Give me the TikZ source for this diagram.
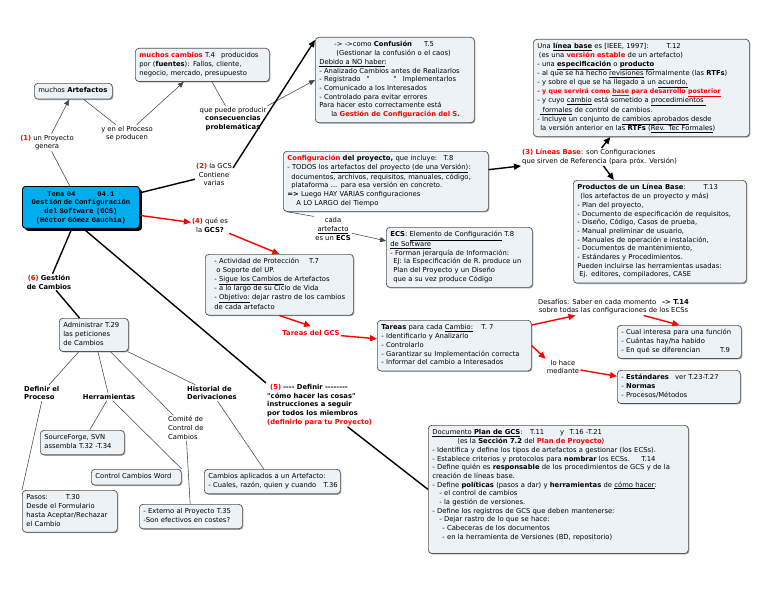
\documentclass[tikz,border=0pt]{standalone}
\usepackage{fontspec}
\setmainfont{DejaVu Sans}[Ligatures=TeXOff]
\newfontfamily\MonoF{Liberation Mono}
\usetikzlibrary{arrows.meta,shadows,calc}
\definecolor{boxfill}{RGB}{236,242,245}
\definecolor{boxline}{RGB}{85,85,85}
\definecolor{thinline}{RGB}{70,70,70}
\newcommand\Fs{\fontsize{6.8}{8.7}\selectfont}
\newcommand\Tb[1]{\begin{tabular}{@{}l@{}}#1\end{tabular}}
\newcommand\Tbc[1]{\begin{tabular}{@{}c@{}}#1\end{tabular}}
\newcommand\Rb[1]{\textcolor{red}{\bfseries #1}}
\tikzset{
  box/.style={draw=boxline, fill=boxfill, line width=0.7pt, rounded corners=3.5pt,
    inner xsep=4pt, inner ysep=3.5pt, anchor=north west, font=\Fs, align=left,
    drop shadow={shadow xshift=1pt, shadow yshift=-1pt, fill=black!45, opacity=0.8}},
  mainbox/.style={draw=black, fill=cyan, line width=0.9pt, rounded corners=3pt,
    inner xsep=4pt, inner ysep=3.5pt, anchor=north west, align=center,
    font=\MonoF\bfseries\fontsize{7.1}{8.7}\selectfont,
    drop shadow={shadow xshift=2.5pt, shadow yshift=-2.5pt, fill=black, opacity=1}},
  lab/.style={font=\Fs, inner sep=1pt, align=center},
  labl/.style={font=\Fs, inner sep=1pt, align=left},
  lnthin/.style={draw=thinline, line width=0.55pt},
  lnthina/.style={lnthin, -{Triangle[length=6pt,width=5pt]}},
  lnthick/.style={draw=black, line width=1.4pt},
  lnthicka/.style={lnthick, -{Triangle[length=7pt,width=6pt]}},
  reda/.style={draw=red, line width=1.4pt, -{Triangle[length=7pt,width=6pt]}},
}
\begin{document}
\begin{tikzpicture}[x=1pt,y=-1pt]
\useasboundingbox (0,0) rectangle (768,594);
\fill[white] (0,0) rectangle (768,594);

% boxes
\node[mainbox, text width=109pt] (main) at (22,186)
  {\Tbc{Tema 04\hspace{22pt}04.1\\Gestión de Configuración\\del Software (GCS)\\(Héctor Gómez Gauchia)}};

\node[box, text width=70pt] (art) at (34,83) {\Tb{muchos \textbf{Artefactos}}};

\node[box, text width=126pt] (mc) at (135,48)
  {\Tb{\Rb{muchos cambios} T.4\hspace{4pt} producidos\\ por (\textbf{fuentes}): Fallos, cliente,\\ negocio, mercado, presupuesto}};

\node[box, text width=151pt] (conf) at (315,37)
  {\Tb{\hspace{15pt}-> ->como \textbf{Confusión}\hspace{12pt}T.5\\
  \hspace{17pt}(Gestionar la confusión o el caos)\\
  \underline{Debido a NO haber}:\\
  - Analizado Cambios antes de Realizarlos\\
  - Registrado\hspace{6pt}"\hspace{24pt}"\hspace{6pt}Implementarlos\\
  - Comunicado a los Interesados\\
  - Controlado para evitar errores\\
  Para hacer esto correctamente está\\
  \hspace{12pt}la \Rb{Gestión de Configuración del S.}}};

\node[box, text width=208pt] (lbase) at (533,39)
  {\Tb{Una \underline{\textbf{línea base}} es [IEEE, 1997]:\hspace{18pt}T.12\\
  \hspace{1.5pt}(es una \Rb{versión estable} de un artefacto)\\
  - una \underline{\textbf{especificación}} o \underline{\textbf{producto}}\\
  - al que se ha hecho \underline{revisiones} formalmente (las \textbf{RTFs})\\
  - y sobre el que se ha llegado a un \underline{acuerdo,}\\
  \textcolor{red}{\bfseries\fontsize{6.3}{8.7}\selectfont - y que servirá como \underline{base} para desarrollo \underline{posterior}}\\
  - y cuyo \underline{cambio} está sometido a \underline{procedimientos\ }\\
  \hspace{3pt}\underline{\ formales} de control de cambios.\\
  - Incluye un conjunto de \underline{cambios aprobados} desde\\
  \hspace{3pt}la versión anterior en las \textbf{RTFs} (\underline{Rev. Tec Formales})}};

\node[box, text width=197pt] (config) at (283,151)
  {\Tb{\Rb{Configuración} \textbf{del proyecto,} que incluye:\hspace{3pt} T.8\\
  - TODOS los \underline{artefactos del proyecto (de una Versión)}:\\
  \hspace{4pt}documentos, archivos, requisitos, manuales, código,\\
  \hspace{4pt}plataforma ... para esa versión en concreto.\\
  \textbf{=>} Luego HAY VARIAS configuraciones\\
  \hspace{9pt}A LO LARGO del Tiempo}};

\node[box, text width=165pt] (prod) at (573,180)
  {\Tb{\textbf{Productos de un Línea Base}:\hspace{18pt}T.13\\
  \hspace{3pt}(los artefactos de un proyecto y más)\\
  - Plan del proyecto,\\
  - Documento de especificación de requisitos,\\
  - Diseño, Código, Casos de prueba,\\
  - Manual preliminar de usuario,\\
  - Manuales de operación e instalación,\\
  - Documentos de mantenimiento,\\
  - Estándares y Procedimientos.\\
  Pueden incluirse las herramientas usadas:\\
  \hspace{2pt}Ej. editores, compiladores, CASE}};

\node[box, text width=138pt] (ecs) at (386,227)
  {\Tb{\textbf{ECS}: \underline{Elemento de Configuración} T.8\\
  \underline{de Software}\\
  - Forman jerarquía de Información:\\
  \hspace{3pt}EJ: la Especificación de R. produce un\\
  \hspace{3pt}Plan del Proyecto y un Diseño\\
  \hspace{3pt}que a su vez produce Código}};

\node[box, inner xsep=9pt, text width=130pt] (activ) at (205,254)
  {\Tb{- Actividad de Protección\hspace{10pt}T.7\\
  \hspace{2pt}o Soporte del UP.\\
  - \underline{Sigue los Cambios }de Artefactos\\
  - a lo largo de su Ciclo de Vida\\
  - \underline{Objetivo:} dejar rastro de los cambios\\
  de cada artefacto}};

\node[box, text width=146pt] (tareas) at (377,320)
  {\Tb{\textbf{Tareas} para cada \underline{Cambio:}\hspace{6pt} T. 7\\
  - Identificarlo y Analizarlo\\
  - Controlarlo\\
  - Garantizar su Implementación correcta\\
  - Informar del cambio a Interesados}};

\node[box, text width=116pt] (cual) at (617,325)
  {\Tb{- Cual interesa para una función\\
  - Cuántas hay/ha habido\\
  - En qué se diferencian\hspace{20pt}T.9}};

\node[box, text width=115pt] (est) at (617,370)
  {\Tb{- \textbf{Estándares}\hspace{4pt} ver T.23-T.27\\
  - \textbf{Normas}\\
  - Procesos/Métodos}};

\node[box, text width=61pt] (admin) at (59,318) {\Tb{Administrar T.29\\las peticiones\\de Cambios}};
\node[box, text width=76pt] (sf) at (40,430) {\Tb{SourceForge, SVN\\assembla T.32 -T.34}};
\node[box, text width=82pt] (cw) at (91,469) {\Tb{Control Cambios Word}};
\node[box, text width=87pt] (pasos) at (22,490) {\Tb{Pasos:\hspace{18pt}T.30\\Desde el Formulario\\hasta Aceptar/Rechazar\\el Cambio}};
\node[box, text width=95pt] (ext) at (139,504) {\Tb{- Externo al Proyecto T.35\\-Son efectivos en costes?}};
\node[box, text width=128pt] (ca) at (204,469) {\Tb{Cambios aplicados a un Artefacto:\\- Cuales, razón, quien y cuando\hspace{5pt} T.36}};

\node[box, text width=252pt] (plan) at (428,425)
  {\Tb{\underline{Documento \textbf{Plan de GCS}}:\hspace{4pt} T.11\hspace{16pt}y\hspace{3pt} T.16 -T.21\\
  \hspace{25pt}(es la \textbf{Sección 7.2} del \Rb{Plan de Proyecto})\\
  - Identifica y define los tipos de artefactos a gestionar (los ECSs).\\
  - Establece criterios y protocolos para \textbf{nombrar} los ECSs.\hspace{8pt} T.14\\
  - Define quién es \textbf{responsable} de los procedimientos de GCS y de la\\
  creación de líneas base.\\
  - Define \textbf{políticas} (pasos a dar) y \textbf{herramientas} de \underline{cómo hacer}:\\
  \hspace{7pt}- el control de cambios\\
  \hspace{7pt}- la gestión de versiones.\\
  - Define los registros de GCS que deben mantenerse:\\
  \hspace{7pt}- Dejar rastro de lo que se hace:\\
  \hspace{10pt}- Cabeceras de los documentos\\
  \hspace{10pt}- en la herramienta de Versiones (BD, repositorio)\\[8pt]}};

% labels
\node[lab] (lab1) at (47,142.5) {\Rb{(1)} un Proyecto\\genera};
\node[lab] (laby) at (127,133.5) {y en el Proceso\\se producen};
\node[lab] (labqp) at (233,119) {que puede producir\\\textbf{consecuencias}\\\textbf{problemáticas}};
\node[lab] (lab2) at (214,174.5) {\Rb{(2)} la GCS\\Contiene\\varias};
\node[lab] (lab4) at (210,225) {\Rb{(4)} qué es\\la \textbf{GCS?}};
\node[lab] (lab6) at (49,282) {\Rb{(6)} \textbf{Gestión}\\\textbf{de Cambios}};
\node[labl, anchor=west] (lab3) at (521,157) {\Rb{(3) Líneas Base}: son Configuraciones\\que sirven de Referencia (para próx. Versión)};
\node[lab] (labcada) at (333,229) {cada\\\underline{artefacto}\\es un \textbf{ECS}};
\node[lab] (labtdg) at (311,333) {\Rb{Tareas del GCS}};
\node[lab] (labdes) at (613.5,306.5) {Desafíos: Saber en cada momento\hspace{4pt} \textbf{-> T.14}\\sobre todas las configuraciones de los ECSs};
\node[lab] (lablh) at (563,367) {lo hace\\mediante};
\node[labl, anchor=west] (labdef) at (23,393) {\textbf{Definir el}\\\textbf{Proceso}};
\node[lab] (labher) at (109,397) {\textbf{Herramientas}};
\node[labl, anchor=west] (labhis) at (186,393) {\textbf{Historial de}\\\textbf{Derivaciones}};
\node[labl, anchor=west] (labcom) at (167,428) {Comité de\\Control de\\Cambios};
\node[labl, anchor=north west] (lab5) at (266,383)
  {\hspace{3pt}\Rb{(5)} \textbf{---- Definir --------}\\
  \textbf{"cómo hacer las cosas"}\\
  \textbf{instrucciones a seguir}\\
  \textbf{por todos los miembros}\\
  \Rb{(definirlo para tu Proyecto)}};

% connectors
\draw[lnthin] (main) -- (lab1);
\draw[lnthina] (lab1) -- (art);
\draw[lnthin] (art) -- (laby);
\draw[lnthina] (laby) -- (mc);
\draw[lnthin] (mc) -- (labqp);
\draw[lnthina] (labqp.north east) -- (conf.west);
\draw[lnthick] (main) -- (lab2);
\draw[lnthicka] ([yshift=-6pt]lab2.north east) -- ([yshift=-3pt]conf.north west);
\draw[reda] (main) -- (lab4);
\draw[reda] (lab4.south east) -- (activ.north);
\draw[lnthick] (main) -- (lab6);
\draw[lnthick] (lab6) -- (admin);
\draw[lnthick] ([xshift=2.5pt]main.south) -- (lab5.north west);
\draw[lnthick] ([xshift=28pt]lab5.south) -- (plan.west);
\draw[lnthicka] (config) -- (lab3);
\draw[lnthicka] ([xshift=2pt]lab3.north) -- ([xshift=-31pt]lbase.south);
\draw[lnthicka] ([xshift=4pt]lab3.south) -- ([xshift=-46pt]prod.north);
\draw[lnthin] ([xshift=4pt]config.south west) -- (labcada.north west);
\draw[lnthina] (labcada) -- (ecs);
\draw[reda] (activ.south) -- ([yshift=3pt]labtdg.north);
\draw[reda] (labtdg) -- (tareas);
\draw[reda] ([yshift=-5pt]tareas.north east) -- ([xshift=-38pt]labdes.south);
\draw[reda] ([xshift=30pt]labdes.south) -- (cual.north);
\draw[reda] (tareas.east) -- (lablh.north west);
\draw[reda] (lablh) -- (est);
\draw[lnthin] (admin) -- (labdef);
\draw[lnthin] (admin) -- (labher);
\draw[lnthin] (admin) -- (labcom);
\draw[lnthin] (admin) -- (labhis);
\draw[lnthin] (labdef.south) -- (pasos.north west);
\draw[lnthin] (labher) -- (sf);
\draw[lnthin] (labher) -- (cw.north east);
\draw[lnthin] (labcom) -- (ext);
\draw[lnthin] (labhis) -- (ca);
\end{tikzpicture}
\end{document}
